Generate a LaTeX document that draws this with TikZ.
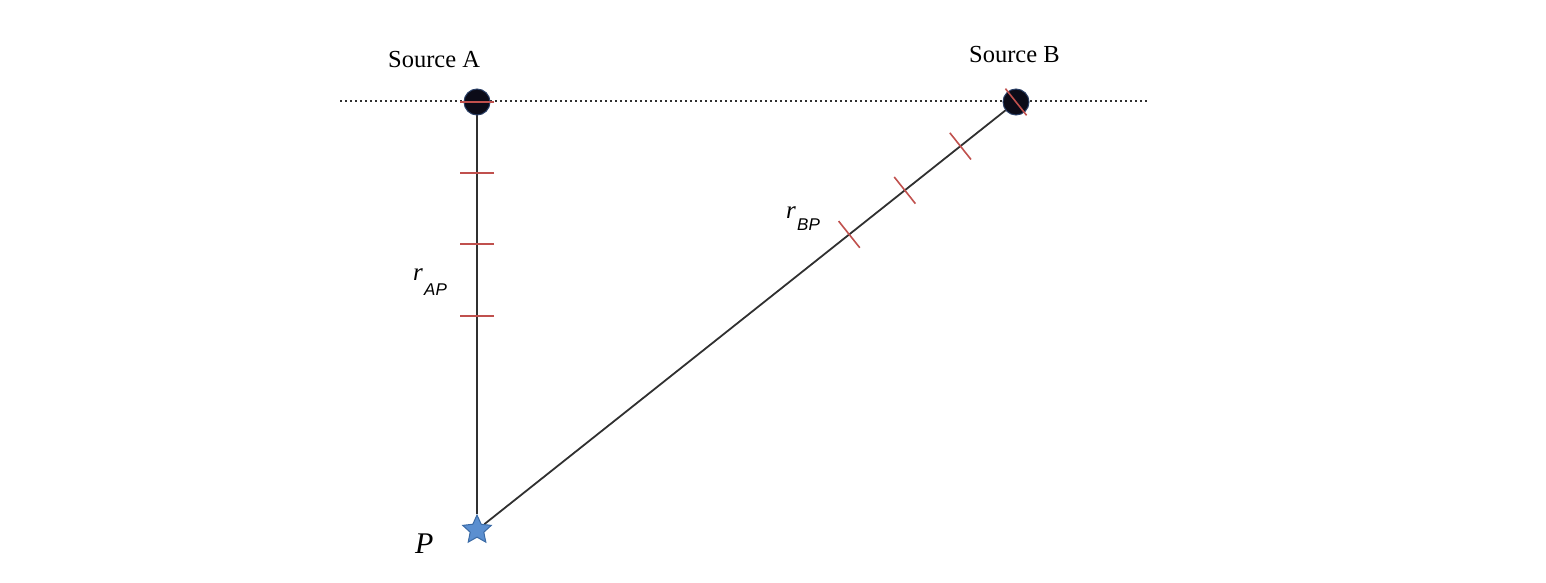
\documentclass[tikz,border=0pt]{standalone}
\usepackage{fontspec}
\setmainfont{Liberation Serif}
\newfontfamily\arialf{Liberation Sans}
\usetikzlibrary{shapes.geometric,calc}
\definecolor{tickred}{HTML}{C0504D}
\definecolor{linegray}{HTML}{303030}
\definecolor{dotfill}{HTML}{0B0B18}
\definecolor{dotedge}{HTML}{2A3F66}
\definecolor{starfill}{HTML}{5B8FD0}
\definecolor{staredge}{HTML}{3A6AA5}
\tikzset{
  srcdot/.style={circle, fill=dotfill, draw=dotedge, line width=1pt, minimum size=26pt, inner sep=0pt},
  starnode/.style={star, star points=5, star point ratio=2.1, fill=starfill, draw=staredge, line width=1pt, minimum size=30pt, inner sep=0pt},
  mainline/.style={draw=linegray, line width=1.8pt},
  tickline/.style={draw=tickred, line width=1.6pt},
  dotline/.style={draw=linegray, line width=2pt, dash pattern=on 2pt off 3pt},
  lbl/.style={inner sep=0pt, anchor=base west, font=\fontsize{24.5}{28}\selectfont},
  rlbl/.style={inner sep=0pt, anchor=base west, font=\fontsize{25}{28}\selectfont\itshape},
  sublbl/.style={inner sep=0pt, anchor=base west, font=\fontsize{17}{20}\selectfont\arialf\itshape},
  plbl/.style={inner sep=0pt, anchor=base west, font=\fontsize{30}{34}\selectfont\itshape}
}
\begin{document}
\begin{tikzpicture}[x=1pt,y=-1pt]
\useasboundingbox (0,0) rectangle (1546,583);
% dotted baseline
\coordinate (dl) at (340,101);
\coordinate (dr) at (1148,101);
\draw[dotline] (dl) -- (dr);
% point P (star), drawn on top later
\path (477,530) coordinate (Pc);
\node[starnode, draw=none, fill=none] (P) at (Pc) {};
\draw[mainline] (477,102) coordinate (Ac) -- (P);
\draw[mainline] (1016,102) coordinate (Bc) -- (P);
\node[starnode] (Pstar) at (Pc) {};
\node[srcdot] (A) at (Ac) {};
\node[srcdot] (B) at (Bc) {};
% ticks on AP
\foreach \d in {0,71,142,214} {
  \coordinate (t) at ($(A.center)!\d pt!(P.center)$);
  \draw[tickline] ($(t)!17pt!90:(P.center)$) -- ($(t)!17pt!-90:(P.center)$);
}
% ticks on BP
\foreach \d in {0,71,142,213} {
  \coordinate (t) at ($(B.center)!\d pt!(P.center)$);
  \draw[tickline] ($(t)!17pt!90:(P.center)$) -- ($(t)!17pt!-90:(P.center)$);
}
% labels
\node[lbl] (la) at (388,68) {Source A};
\node[lbl] (lb) at (969,63) {Source B};
\node[rlbl] (ra) at (413,280) {r};
\node[sublbl] (rasub) at (424,295) {AP};
\node[rlbl] (rb) at (786,218) {r};
\node[sublbl] (rbsub) at (797,230) {BP};
\node[plbl] (lp) at (415,553) {P};
\end{tikzpicture}
\end{document}
